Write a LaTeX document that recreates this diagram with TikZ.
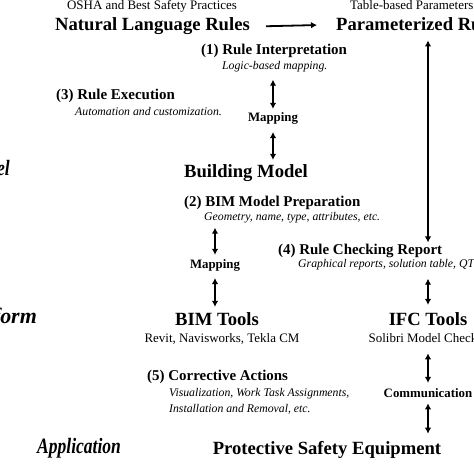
\documentclass[tikz,border=0pt]{standalone}
\usepackage{fontspec}
\setmainfont{Liberation Serif}
\usetikzlibrary{arrows.meta}

\newcommand{\narrow}[1]{\scalebox{0.8}[1]{#1}}

\begin{document}
\begin{tikzpicture}[x=1bp, y=-1bp,
  every node/.style={inner sep=1bp},
  tier/.style={font=\bfseries\fontsize{18.7}{20}\selectfont},
  layer/.style={font=\bfseries\itshape\fontsize{22}{24}\selectfont},
  stage/.style={font=\bfseries\fontsize{15}{17}\selectfont},
  hint/.style={font=\itshape\fontsize{11.8}{16}\selectfont},
  source/.style={font=\fontsize{13}{15}\selectfont},
  link/.style={font=\bfseries\fontsize{12.9}{15}\selectfont},
  twoway/.style={{Latex[length=6bp,width=6.5bp]}-{Latex[length=6bp,width=6.5bp]}, line width=1.8bp},
  oneway/.style={-{Latex[length=6bp,width=6.5bp]}, line width=1.8bp}]
  \useasboundingbox (0,0) rectangle (474,474);
  \clip (0,0) rectangle (474,474);

  % rules
  \node[source, anchor=base] (osha) at (152,10) {OSHA and Best Safety Practices};
  \node[tier, anchor=base] (natural) at (152.5,31) {Natural Language Rules};
  \node[source, anchor=base west] (table) at (349,10) {Table-based Parameters};
  \node[tier, anchor=base west] (param) at (335,31) {Parameterized Rules};

  % interpretation and execution
  \node[stage, anchor=base west] (interp) at (200,55) {(1) Rule Interpretation};
  \node[hint, anchor=base west] (logic) at (221,70) {Logic-based mapping.};
  \node[stage, anchor=base west] (exec) at (55,100) {(3) Rule Execution};
  \node[hint, anchor=base west] (auto) at (74,116) {Automation and customization.};
  \node[link, anchor=base] (mapA) at (273,122) {Mapping};

  % model
  \node[layer, anchor=base east] (model) at (11,176) {\narrow{Model}};
  \node[tier, anchor=base west] (building) at (183,178) {Building Model};
  \node[stage, anchor=base west] (prep) at (183,207) {(2) BIM Model Preparation};
  \node[hint, anchor=base west] (geom) at (203,221) {Geometry, name, type, attributes, etc.};
  \node[link, anchor=base] (mapB) at (215,268) {Mapping};
  \node[stage, anchor=base west] (report) at (277,254) {(4) Rule Checking Report};
  \node[hint, anchor=base west] (graph) at (297,267) {Graphical reports, solution table, QTO};

  % platform
  \node[layer, anchor=base east] (platform) at (38,323) {Platform};
  \node[tier, anchor=base] (bim) at (217,325) {BIM Tools};
  \node[source, anchor=base] (revit) at (222,342) {Revit, Navisworks, Tekla CM};
  \node[tier, anchor=base] (ifc) at (428,325) {IFC Tools};
  \node[source, anchor=base] (solibri) at (428,342) {Solibri Model Checker};

  % actions
  \node[stage, anchor=base west] (correct) at (146,380) {(5) Corrective Actions};
  \node[hint, anchor=north west, align=left] (visual) at (168,387)
    {Visualization, Work Task Assignments,\\Installation and Removal, etc.};
  \node[link, anchor=base] (comm) at (428,397) {Communication};

  % application
  \node[layer, anchor=base west] (app) at (36,453) {\narrow{Application}};
  \node[tier, anchor=base] (equip) at (327,454) {Protective Safety Equipment};

  % connectors
  \draw[oneway, shorten <=15bp, shorten >=18bp] (natural.east) -- (param.west);
  \draw[twoway, shorten <=8bp] (ifc |- param.south) -- (ifc |- report.north);
  \draw[twoway, shorten <=6bp, shorten >=3bp] (mapA |- logic.south) -- (mapA.north);
  \draw[twoway, shorten <=6bp, shorten >=4bp] (mapA.south) -- (mapA |- building.north);
  \draw[twoway, shorten <=3bp, shorten >=3bp] (mapB |- geom.south) -- (mapB.north);
  \draw[twoway, shorten <=6bp, shorten >=4bp] (mapB.south) -- (mapB |- bim.north);
  \draw[twoway, shorten <=8bp, shorten >=6bp] (ifc |- graph.south) -- (ifc.north);
  \draw[twoway, shorten <=10bp, shorten >=4bp] (solibri.south) -- (comm.north);
  \draw[twoway, shorten <=5bp, shorten >=6bp] (comm.south) -- (comm |- equip.north);
\end{tikzpicture}
\end{document}
